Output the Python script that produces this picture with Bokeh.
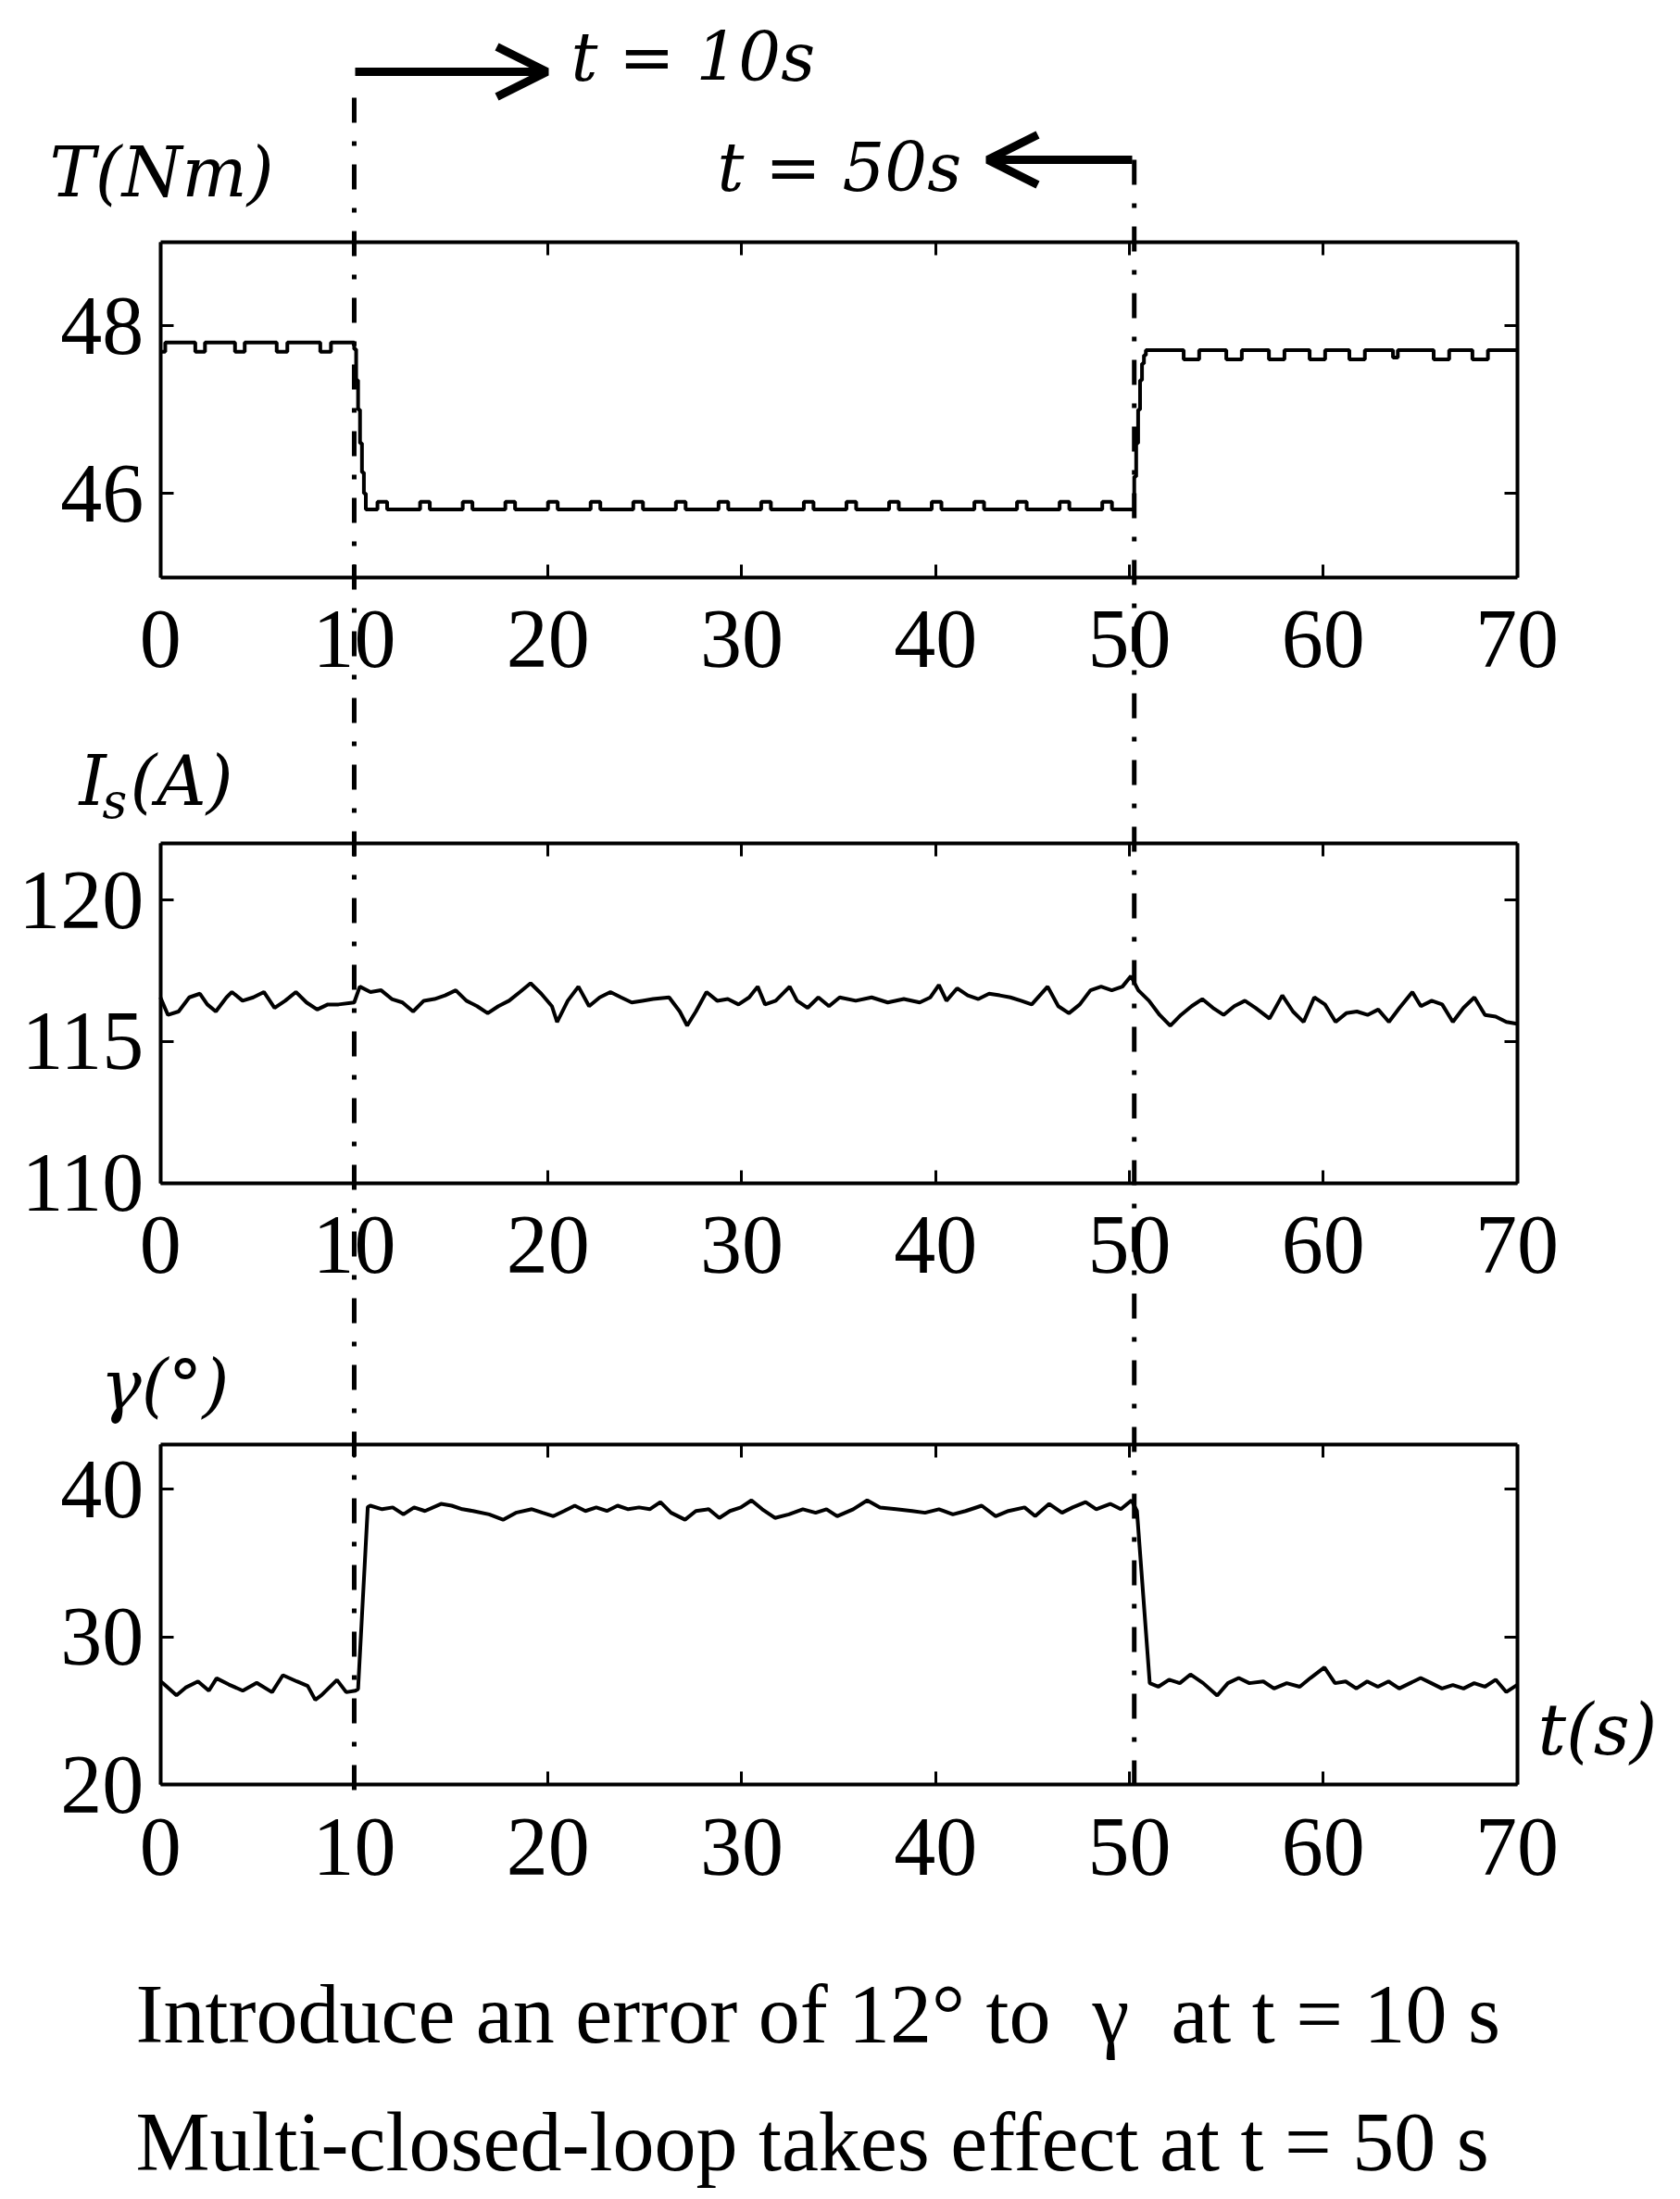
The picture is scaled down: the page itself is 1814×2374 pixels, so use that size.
from bokeh.plotting import figure
from bokeh.models import Range1d, LinearAxis, FixedTicker, Label, Arrow, OpenHead
from bokeh.embed import file_html
from bokeh.resources import INLINE

# ---------------- data ----------------
x_ticks = [0, 10, 20, 30, 40, 50, 60, 70]
T_ticks = [46, 48]
I_ticks = [110, 115, 120]
G_ticks = [20, 30, 40]
event_times = [10.0, 50.25]

T_time = [0.0, 0.25, 1.8, 2.3, 3.85, 4.35, 6.0, 6.55, 8.25, 8.8,
          10.0, 10.1, 10.2, 10.3, 10.4, 10.5, 10.6,
          11.2, 11.7, 13.4, 13.9, 15.6, 16.1, 17.8, 18.3, 20.0, 20.5, 22.2, 22.7,
          24.4, 24.9, 26.6, 27.1, 28.8, 29.3, 31.0, 31.5, 33.2, 33.7, 35.4, 35.9,
          37.6, 38.1, 39.8, 40.3, 42.0, 42.5, 44.2, 44.7, 46.4, 46.9, 48.6, 49.1,
          50.25, 50.35, 50.45, 50.55, 50.65, 50.75, 50.85,
          52.8, 53.6, 55.0, 55.8, 57.2, 58.0, 59.3, 60.1, 61.35, 62.15, 63.6, 63.85,
          65.7, 66.5, 67.7, 68.5, 70.0]
T_val = [47.69, 47.80, 47.69, 47.80, 47.69, 47.80, 47.69, 47.80, 47.69, 47.80,
         47.72, 47.35, 47.0, 46.6, 46.25, 46.0, 45.81,
         45.90, 45.81, 45.90, 45.81, 45.90, 45.81, 45.90, 45.81, 45.90, 45.81, 45.90, 45.81,
         45.90, 45.81, 45.90, 45.81, 45.90, 45.81, 45.90, 45.81, 45.90, 45.81, 45.90, 45.81,
         45.90, 45.81, 45.90, 45.81, 45.90, 45.81, 45.90, 45.81, 45.90, 45.81, 45.90, 45.81,
         46.2, 46.6, 47.0, 47.35, 47.55, 47.65, 47.71,
         47.60, 47.71, 47.60, 47.71, 47.60, 47.71, 47.60, 47.71, 47.60, 47.71, 47.62, 47.71,
         47.60, 47.71, 47.60, 47.71, 47.71]

Is_time = [0.0, 0.39, 0.94, 1.49, 2.04, 2.42, 2.86, 3.41, 3.69, 4.24, 4.79, 5.34, 5.89, 6.44,
           6.99, 7.54, 8.09, 8.64, 9.19, 10.0, 10.29, 10.84, 11.39, 11.94, 12.49, 13.04, 13.59,
           14.14, 14.69, 15.24, 15.79, 16.34, 16.89, 17.44, 17.99, 18.55, 19.1, 19.65, 20.2,
           20.47, 21.02, 21.57, 22.12, 22.67, 23.22, 23.77, 24.32, 24.87, 25.42, 26.25, 26.8,
           27.18, 27.63, 28.18, 28.73, 29.28, 29.83, 30.38, 30.82, 31.2, 31.75, 32.47, 32.85,
           33.4, 33.95, 34.5, 35.05, 35.88, 36.7, 37.53, 38.36, 39.18, 39.73, 40.17, 40.56,
           41.11, 41.66, 42.21, 42.76, 43.31, 43.86, 44.41, 44.96, 45.78, 46.33, 46.88, 47.44,
           47.99, 48.54, 49.09, 49.64, 50.08, 50.46, 51.01, 51.56, 52.11, 52.66, 53.21, 53.76,
           54.31, 54.86, 55.41, 55.96, 56.51, 57.23, 57.89, 58.44, 58.99, 59.54, 60.09, 60.64,
           61.19, 61.74, 62.29, 62.84, 63.39, 63.94, 64.6, 65.04, 65.6, 66.14, 66.69, 67.24,
           67.8, 68.35, 68.9, 69.45, 70.0]
Is_val = [116.56, 115.94, 116.06, 116.56, 116.69, 116.31, 116.06, 116.56, 116.75, 116.44,
          116.56, 116.75, 116.19, 116.44, 116.75, 116.38, 116.13, 116.31, 116.31, 116.38,
          116.94, 116.75, 116.81, 116.5, 116.38, 116.06, 116.44, 116.5, 116.63, 116.81,
          116.44, 116.25, 116.0, 116.25, 116.44, 116.75, 117.06, 116.69, 116.25, 115.69,
          116.44, 116.94, 116.25, 116.56, 116.75, 116.56, 116.38, 116.44, 116.5, 116.56,
          116.06, 115.56, 116.06, 116.75, 116.44, 116.5, 116.31, 116.56, 116.94, 116.31,
          116.44, 116.94, 116.44, 116.19, 116.56, 116.25, 116.56, 116.44, 116.56, 116.38,
          116.5, 116.38, 116.56, 117.0, 116.44, 116.88, 116.63, 116.5, 116.69, 116.63,
          116.56, 116.44, 116.31, 116.94, 116.25, 116.0, 116.31, 116.81, 116.94, 116.81,
          116.94, 117.31, 116.81, 116.44, 115.94, 115.56, 115.94, 116.25, 116.5, 116.19,
          115.94, 116.25, 116.44, 116.19, 115.81, 116.63, 116.06, 115.69, 116.56, 116.31,
          115.69, 116.0, 116.06, 115.94, 116.13, 115.69, 116.19, 116.75, 116.25, 116.44,
          116.31, 115.69, 116.19, 116.56, 115.94, 115.88, 115.69, 115.63]

gamma_time = [0.0, 0.11, 0.83, 1.3, 1.94, 2.5, 2.9, 3.53, 4.25, 4.97, 5.76, 6.32, 7.04, 7.6,
              7.99, 8.31, 8.71, 9.11, 9.59, 10.06, 10.2, 10.7, 10.83, 11.44, 11.99, 12.54,
              13.09, 13.65, 14.48, 15.03, 15.58, 16.13, 16.96, 17.68, 18.34, 19.17, 19.72,
              20.28, 20.83, 21.38, 21.93, 22.49, 23.04, 23.59, 24.14, 24.7, 25.25, 25.8,
              26.35, 27.07, 27.63, 28.29, 28.84, 29.39, 29.95, 30.5, 31.05, 31.71, 32.43,
              33.15, 33.81, 34.37, 34.92, 35.75, 36.47, 37.13, 37.96, 38.79, 39.45, 40.17,
              40.89, 41.55, 42.38, 43.1, 43.76, 44.59, 45.14, 45.86, 46.52, 47.07, 47.74,
              48.29, 49.01, 49.56, 50.11, 50.39, 51.05, 51.49, 52.05, 52.6, 53.15, 53.81,
              54.53, 55.08, 55.64, 56.19, 56.91, 57.46, 58.12, 58.79, 59.34, 60.06, 60.61,
              61.16, 61.71, 62.27, 62.82, 63.37, 63.92, 64.48, 65.03, 65.58, 66.13, 66.69,
              67.24, 67.79, 68.34, 68.9, 69.45, 70.0]
gamma_val = [26.98, 26.88, 26.04, 26.56, 26.98, 26.35, 27.19, 26.77, 26.35, 26.88, 26.25,
             27.4, 26.98, 26.67, 25.73, 26.04, 26.56, 27.08, 26.25, 26.35, 26.46, 38.79,
             38.88, 38.64, 38.76, 38.29, 38.76, 38.52, 39.0, 38.88, 38.64, 38.52, 38.29,
             37.93, 38.4, 38.64, 38.4, 38.17, 38.52, 38.88, 38.52, 38.76, 38.52, 38.88,
             38.64, 38.76, 38.64, 39.12, 38.4, 37.93, 38.52, 38.64, 38.05, 38.52, 38.76,
             39.24, 38.64, 38.05, 38.29, 38.64, 38.4, 38.64, 38.17, 38.64, 39.24, 38.76,
             38.64, 38.52, 38.4, 38.64, 38.29, 38.52, 38.88, 38.17, 38.52, 38.76, 38.17,
             39.0, 38.4, 38.76, 39.12, 38.64, 39.0, 38.64, 39.24, 38.52, 26.86, 26.62,
             27.1, 26.86, 27.45, 26.86, 26.02, 26.86, 27.21, 26.86, 26.98, 26.5, 26.86,
             26.62, 27.21, 27.93, 26.86, 26.98, 26.5, 26.98, 26.62, 26.98, 26.5, 26.86,
             27.21, 26.86, 26.5, 26.74, 26.5, 26.86, 26.62, 27.1, 26.26, 26.74]

# ---------------- layout ----------------
W, H = 1806, 2370
PX0, PY0 = 0, 0            # page offset of the canvas (observed: none)
PX1, PY1 = PX0 + W, PY0 + H


def lin_range(va, pa, vb, pb, p_start, p_end):
    k = (vb - va) / (pb - pa)
    return Range1d(start=va + (p_start - pa) * k, end=va + (p_end - pa) * k)


X_LEFT, X_RIGHT = 172.7, 1637.5
time_range = lin_range(0, X_LEFT, 70, X_RIGHT, PX0, PX1)
panels = {
    "T": dict(lo=45, hi=49, p_lo=622.7, p_hi=260.7, ticks=T_ticks),
    "I": dict(lo=110, hi=122, p_lo=1276.7, p_hi=910.0, ticks=I_ticks),
    "G": dict(lo=20, hi=43, p_lo=1926.0, p_hi=1559.3, ticks=G_ticks),
}

p = figure(width=W, height=H, x_range=time_range, y_range=Range1d(start=PY1, end=PY0),
           output_backend="svg", toolbar_location=None,
           x_axis_location=None, y_axis_location=None, min_border=0,
           outline_line_color=None, background_fill_color="white",
           border_fill_color="white")
p.grid.visible = False
p.extra_x_ranges = {"px": Range1d(start=PX0, end=PX1)}
p.extra_y_ranges = {name: lin_range(d["lo"], d["p_lo"], d["hi"], d["p_hi"], PY1, PY0)
                    for name, d in panels.items()}

FONT_NUM = "Liberation Serif"
common = dict(axis_line_width=4, axis_line_color="black",
              major_tick_line_width=3, major_tick_line_color="black",
              major_tick_in=14, major_tick_out=0, minor_tick_in=0, minor_tick_out=0,
              major_label_text_font=FONT_NUM, major_label_text_font_size="90px",
              major_label_text_color="black")

for name, d in panels.items():
    bottom = LinearAxis(y_range_name=name, fixed_location=d["lo"], bounds=(0, 70),
                        ticker=FixedTicker(ticks=x_ticks), major_label_standoff=37, **common)
    p.add_layout(bottom, "below")
    top = LinearAxis(y_range_name=name, fixed_location=d["hi"], bounds=(0, 70),
                     ticker=FixedTicker(ticks=x_ticks),
                     major_label_overrides={t: "" for t in x_ticks}, **common)
    p.add_layout(top, "above")
    left = LinearAxis(y_range_name=name, fixed_location=0, bounds=(d["lo"], d["hi"]),
                      ticker=FixedTicker(ticks=d["ticks"]), major_label_standoff=18, **common)
    p.add_layout(left, "left")
    right = LinearAxis(y_range_name=name, fixed_location=70, bounds=(d["lo"], d["hi"]),
                       ticker=FixedTicker(ticks=d["ticks"]),
                       major_label_overrides={t: "" for t in d["ticks"]}, **common)
    p.add_layout(right, "right")

LW = 4
p.step(T_time, T_val, mode="after", y_range_name="T", line_color="black", line_width=LW)
p.line(Is_time, Is_val, y_range_name="I", line_color="black", line_width=LW)
p.line(gamma_time, gamma_val, y_range_name="G", line_color="black", line_width=LW)

# dash-dot event markers (x in time, y in page pixels)
p.segment(x0=event_times, y0=[105, 172], x1=event_times, y1=[1935, 1935],
          line_color="black", line_width=5, line_dash="27 20 5 20", level="overlay")

# arrows
p.add_layout(Arrow(x_start=383, y_start=77, x_end=590, y_end=77, x_range_name="px",
                   line_width=9, line_color="black",
                   end=OpenHead(size=54, line_width=9, line_color="black")))
p.add_layout(Arrow(x_start=1222, y_start=172, x_end=1066, y_end=172, x_range_name="px",
                   line_width=9, line_color="black",
                   end=OpenHead(size=54, line_width=9, line_color="black")))

MATH = "DejaVu Serif"
BASE_SHIFT = 0.37   # Bokeh draws the alphabetic baseline this many em below y


def lab(x, y, text, size, font=MATH, style="italic"):
    p.add_layout(Label(x=x, y=y - BASE_SHIFT * size, x_range_name="px", text=text,
                       text_font=font, text_font_style=style, text_font_size=f"{size}px",
                       text_color="black", text_baseline="alphabetic", text_align="left"))


lab(616, 88, "t = 10s", 72)
lab(774, 207, "t = 50s", 72)
lab(53, 213, "T(Nm)", 74)
lab(85, 870, "I", 74)
lab(110, 884, "s", 52)
lab(140, 870, "(A)", 74)
lab(108, 1522, "γ(°)", 74)
lab(1660, 1895, "t(s)", 76)
lab(146, 2207, "Introduce an error of 12° to\u00a0 γ\u00a0 at t = 10 s", 90,
    font=FONT_NUM, style="normal")
lab(146, 2345, "Multi-closed-loop takes effect at t = 50 s", 90, font=FONT_NUM, style="normal")

open("out.html", "w").write(file_html(p, INLINE))
